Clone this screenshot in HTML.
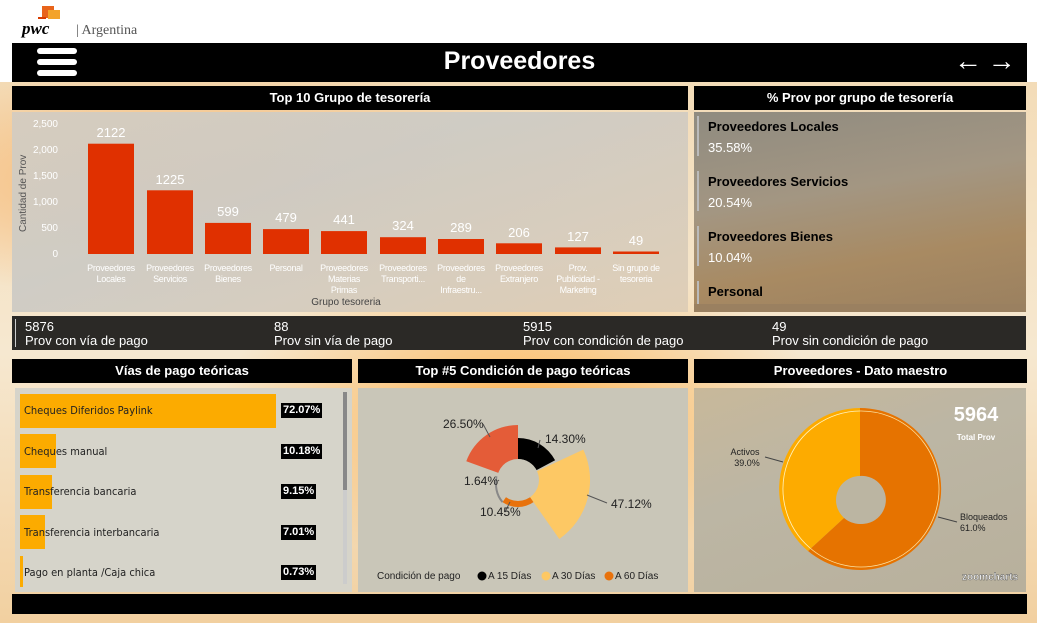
<!DOCTYPE html>
<html><head><meta charset="utf-8"><style>
*{margin:0;padding:0;box-sizing:border-box}
body{width:1037px;height:623px;overflow:hidden;position:relative;font-family:"Liberation Sans",sans-serif;background:#fff}
.abs{position:absolute}
.bg{left:0;top:82px;width:1037px;height:541px;background:
radial-gradient(ellipse 300px 160px at 520px 330px,rgba(255,170,60,.8),rgba(255,170,60,0)),
radial-gradient(ellipse 400px 120px at 200px 100px,rgba(250,150,50,.6),rgba(250,150,50,0)),
linear-gradient(180deg,#f3dcb8,#f6e8d0 50%,#f2d0a0)}
.hdr{background:#000;color:#fff;font-weight:bold;font-size:13px;text-align:center;line-height:24px;height:24px}
.kpi{color:#fff;font-size:13px;line-height:14px}
.row{position:absolute;left:20px;height:34px;background:#fcab00}
.rl{position:absolute;left:24px;font-size:11px;color:#222;font-family:"DejaVu Sans",sans-serif;transform:scaleX(.9);transform-origin:left}
.pct{position:absolute;left:281px;background:#000;color:#fff;font-size:11px;font-weight:bold;padding:1px 2px;line-height:13px}
.pg{position:absolute;left:708px;font-size:13px}
</style></head><body>
<div class="abs bg"></div>
<div class="abs" style="left:42px;top:6px;width:12px;height:12px;background:#e8641b"></div>
<div class="abs" style="left:48px;top:10px;width:12px;height:9px;background:#f3a32a"></div>
<div class="abs" style="left:38px;top:17px;width:8px;height:2px;background:#d83d00"></div>
<div class="abs" style="left:22px;top:19px;font-family:'Liberation Serif',serif;font-weight:bold;font-size:17px;font-style:italic">pwc</div>
<div class="abs" style="left:76px;top:23px;font-family:'Liberation Serif',serif;font-size:14px;color:#555">| Argentina</div>
<div class="abs" style="left:12px;top:43px;width:1015px;height:39px;background:#000"></div>
<div class="abs" style="left:37px;top:48px;width:40px;height:6px;border-radius:3px;background:#fff"></div>
<div class="abs" style="left:37px;top:59px;width:40px;height:6px;border-radius:3px;background:#fff"></div>
<div class="abs" style="left:37px;top:70px;width:40px;height:6px;border-radius:3px;background:#fff"></div>
<div class="abs" style="left:12px;top:47px;width:1015px;text-align:center;color:#fff;font-weight:bold;font-size:25px">Proveedores</div>
<div class="abs" style="left:954px;top:45px;color:#fff;font-size:28px;line-height:32px">&#8592;&#8201;&#8594;</div>

<div class="abs hdr" style="left:12px;top:86px;width:676px">Top 10 Grupo de tesorería</div>
<div class="abs hdr" style="left:694px;top:86px;width:332px">% Prov por grupo de tesorería</div>
<div class="abs" style="left:12px;top:112px;width:676px;height:200px;background:linear-gradient(160deg,rgba(212,204,192,.95),rgba(205,203,197,.95) 40%,rgba(222,205,182,.95))"></div>
<div class="abs" style="left:694px;top:112px;width:332px;height:200px;background:linear-gradient(170deg,#8f8b80,#a39682 40%,#a88a62 70%,#9a8060)"></div>

<svg class="abs" style="left:0;top:0" width="1037" height="623">
<g font-family="Liberation Sans" font-size="10" fill="#fff" text-anchor="end">
<text x="58" y="127">2,500</text><text x="58" y="153">2,000</text><text x="58" y="179">1,500</text><text x="58" y="205">1,000</text><text x="58" y="231">500</text><text x="58" y="257">0</text>
</g>
<text transform="translate(26,232) rotate(-90)" font-family="Liberation Sans" font-size="10" fill="#555">Cantidad de Prov</text>
<g fill="#e03000">
<rect x="88" y="143.7" width="46" height="110.3"/>
<rect x="147" y="190.3" width="46" height="63.7"/>
<rect x="205" y="222.9" width="46" height="31.1"/>
<rect x="263" y="229.1" width="46" height="24.9"/>
<rect x="321" y="231.1" width="46" height="22.9"/>
<rect x="380" y="237.2" width="46" height="16.8"/>
<rect x="438" y="239" width="46" height="15"/>
<rect x="496" y="243.3" width="46" height="10.7"/>
<rect x="555" y="247.4" width="46" height="6.6"/>
<rect x="613" y="251.5" width="46" height="2.5"/>
</g>
<g font-family="Liberation Sans" font-size="13" fill="#fff" text-anchor="middle">
<text x="111" y="137">2122</text><text x="170" y="184">1225</text><text x="228" y="216">599</text><text x="286" y="222">479</text><text x="344" y="224">441</text><text x="403" y="230">324</text><text x="461" y="232">289</text><text x="519" y="237">206</text><text x="578" y="241">127</text><text x="636" y="245">49</text>
</g>
<g font-family="Liberation Sans" font-size="9" fill="#fff" text-anchor="middle" letter-spacing="-.3">
<text x="111" y="271">Proveedores</text><text x="111" y="282">Locales</text>
<text x="170" y="271">Proveedores</text><text x="170" y="282">Servicios</text>
<text x="228" y="271">Proveedores</text><text x="228" y="282">Bienes</text>
<text x="286" y="271">Personal</text>
<text x="344" y="271">Proveedores</text><text x="344" y="282">Materias</text><text x="344" y="293">Primas</text>
<text x="403" y="271">Proveedores</text><text x="403" y="282">Transporti...</text>
<text x="461" y="271">Proveedores</text><text x="461" y="282">de</text><text x="461" y="293">Infraestru...</text>
<text x="519" y="271">Proveedores</text><text x="519" y="282">Extranjero</text>
<text x="578" y="271">Prov.</text><text x="578" y="282">Publicidad -</text><text x="578" y="293">Marketing</text>
<text x="636" y="271">Sin grupo de</text><text x="636" y="282">tesoreria</text>
</g>
<text x="346" y="305" font-family="Liberation Sans" font-size="10" fill="#444" text-anchor="middle">Grupo tesoreria</text>
</svg>

<div class="abs" style="left:697px;top:116px;width:2px;height:40px;background:#bbb"></div>
<div class="abs" style="left:697px;top:171px;width:2px;height:40px;background:#bbb"></div>
<div class="abs" style="left:697px;top:226px;width:2px;height:40px;background:#bbb"></div>
<div class="abs" style="left:697px;top:281px;width:2px;height:30px;background:#bbb"></div>
<div class="pg" style="top:119px;font-weight:bold">Proveedores Locales</div>
<div class="pg" style="top:140px;color:#fff">35.58%</div>
<div class="pg" style="top:174px;font-weight:bold">Proveedores Servicios</div>
<div class="pg" style="top:195px;color:#fff">20.54%</div>
<div class="pg" style="top:229px;font-weight:bold">Proveedores Bienes</div>
<div class="pg" style="top:250px;color:#fff">10.04%</div>
<div class="pg" style="top:284px;font-weight:bold">Personal</div>
<div class="abs" style="left:694px;top:304px;width:332px;height:8px;background:#9a8060"></div>

<div class="abs" style="left:12px;top:316px;width:1014px;height:34px;background:#2b2926"></div>
<div class="abs" style="left:15px;top:319px;width:1px;height:28px;background:#ccc"></div>
<div class="abs kpi" style="left:25px;top:320px">5876<br>Prov con vía de pago</div>
<div class="abs kpi" style="left:274px;top:320px">88<br>Prov sin vía de pago</div>
<div class="abs kpi" style="left:523px;top:320px">5915<br>Prov con condición de pago</div>
<div class="abs kpi" style="left:772px;top:320px">49<br>Prov sin condición de pago</div>

<div class="abs hdr" style="left:12px;top:359px;width:340px">Vías de pago teóricas</div>
<div class="abs hdr" style="left:358px;top:359px;width:330px">Top #5 Condición de pago teóricas</div>
<div class="abs hdr" style="left:694px;top:359px;width:333px">Proveedores - Dato maestro</div>
<div class="abs" style="left:15px;top:388px;width:337px;height:204px;background:#d6d4ca"></div>
<div class="abs" style="left:358px;top:388px;width:330px;height:204px;background:#c9c6b8"></div>
<div class="abs" style="left:694px;top:388px;width:332px;height:204px;background:linear-gradient(160deg,#c8b89a,#bcb6a4 40%,#b8b09c)"></div>

<div class="row" style="top:394px;width:256px"></div>
<div class="row" style="top:434px;width:36px"></div>
<div class="row" style="top:475px;width:32px"></div>
<div class="row" style="top:515px;width:25px"></div>
<div class="row" style="top:556px;width:3px;height:31px"></div>
<div class="rl" style="top:404px">Cheques Diferidos Paylink</div>
<div class="rl" style="top:445px">Cheques manual</div>
<div class="rl" style="top:485px">Transferencia bancaria</div>
<div class="rl" style="top:526px">Transferencia interbancaria</div>
<div class="rl" style="top:566px">Pago en planta /Caja chica</div>
<div class="pct" style="top:403px">72.07%</div>
<div class="pct" style="top:444px">10.18%</div>
<div class="pct" style="top:484px">9.15%</div>
<div class="pct" style="top:525px">7.01%</div>
<div class="pct" style="top:565px">0.73%</div>
<div class="abs" style="left:343px;top:392px;width:4px;height:192px;background:#ccc"></div>
<div class="abs" style="left:343px;top:392px;width:4px;height:98px;background:#888"></div>

<svg class="abs" style="left:0;top:0" width="1037" height="623">
<path d="M518,438 A42,42 0 0 1 555.1,460.3 L536.5,470.1 A21,21 0 0 0 518,459 Z" fill="#000"/>
<path d="M518,480 L583.3,449.6 A72,72 0 0 1 559.3,539 L530,497.2 Z" fill="#fdc864"/>
<path d="M518,480 L533.5,502.1 A27,27 0 0 1 502.5,502.1 Z" fill="#e8720c"/>
<path d="M502.5,502.1 A27,27 0 0 1 497.3,476.3" fill="none" stroke="#888" stroke-width="2"/>
<path d="M518,480 L466.3,461.2 A55,55 0 0 1 518,425 Z" fill="#e45c38"/>
<circle cx="518" cy="480" r="21" fill="#c9c6b8"/>
<g stroke="#555" stroke-width="1" fill="none">
<path d="M483,424 L490,437"/><path d="M540,440 L538,448"/><path d="M498,481 L499,480"/><path d="M505,512 L510,502"/><path d="M587,495 L607,503"/>
</g>
<g font-family="Liberation Sans" font-size="12" fill="#222">
<text x="443" y="428">26.50%</text><text x="545" y="443">14.30%</text><text x="464" y="485">1.64%</text><text x="480" y="516">10.45%</text><text x="611" y="508">47.12%</text>
</g>
<g font-family="Liberation Sans" font-size="10" fill="#222">
<text x="377" y="579">Condición de pago</text>
<circle cx="482" cy="576" r="4.5" fill="#000"/><text x="488" y="579">A 15 Días</text>
<circle cx="546" cy="576" r="4.5" fill="#fdc864"/><text x="552" y="579">A 30 Días</text>
<circle cx="609" cy="576" r="4.5" fill="#e8720c"/><text x="615" y="579">A 60 Días</text>
</g>
<path d="M860,408 A81,81 0 1 1 808,551 L845,517 A24,24 0 1 0 860,476 Z" fill="#e67300"/>
<path d="M860,408 A81,81 0 0 0 808,551 L845,517 A24,24 0 0 1 860,476 Z" fill="#fdab00"/>
<path d="M860,411 A78,78 0 1 1 810,548" fill="none" stroke="#fbe0a0" stroke-width=".8"/>
<path d="M860,411 A78,78 0 0 0 810,548" fill="none" stroke="#fff3c0" stroke-width=".8"/>
<circle cx="860" cy="500" r="24" fill="#bbb5a2"/>
<path d="M765,457 L783,462" stroke="#444"/><path d="M938,517 L957,522" stroke="#444"/>
<g font-family="Liberation Sans" font-size="9" fill="#222" text-anchor="middle">
<text x="745" y="455">Activos</text><text x="747" y="466">39.0%</text>
</g>
<g font-family="Liberation Sans" font-size="9" fill="#222">
<text x="960" y="520">Bloqueados</text><text x="960" y="531">61.0%</text>
</g>
<text x="976" y="421" font-family="Liberation Sans" font-size="20" font-weight="bold" fill="#fff" text-anchor="middle">5964</text>
<text x="976" y="440" font-family="Liberation Sans" font-size="8" font-weight="bold" fill="#fff" text-anchor="middle">Total Prov</text>
<text x="962" y="580" font-family="Liberation Sans" font-size="10" font-weight="bold" fill="#fff" stroke="#555" stroke-width=".4">zoomcharts</text>
</svg>

<div class="abs" style="left:12px;top:594px;width:1015px;height:20px;background:#000"></div>
</body></html>
